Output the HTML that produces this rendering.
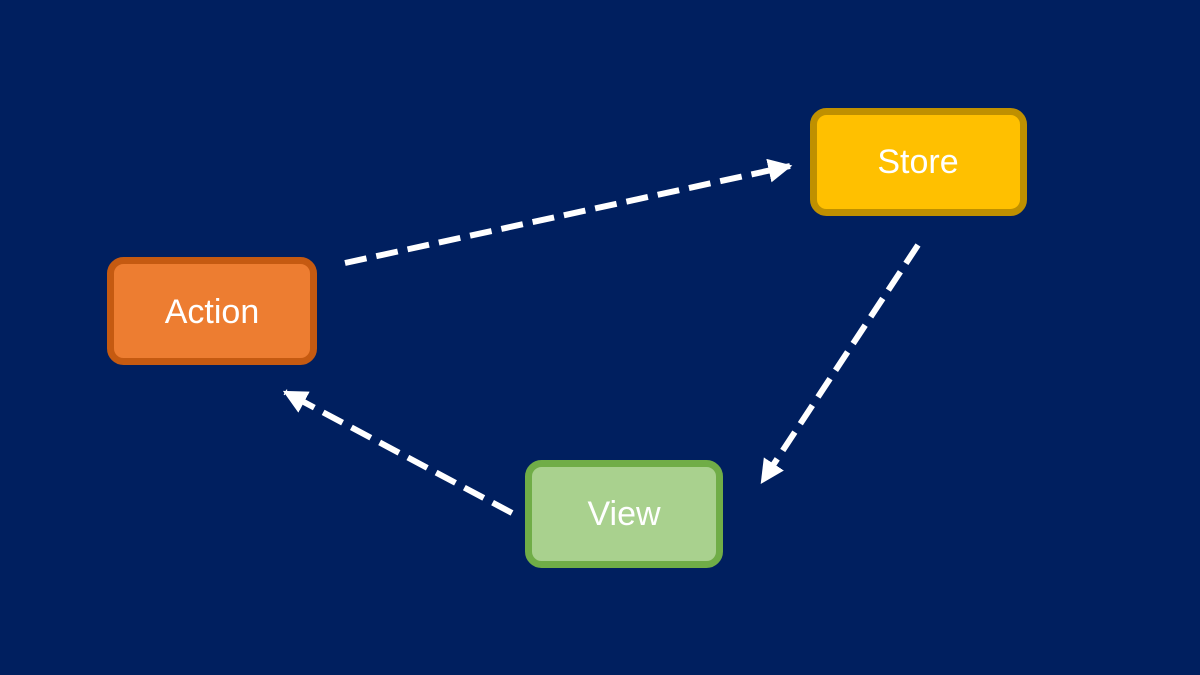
<!DOCTYPE html>
<html><head><meta charset="utf-8"><style>
html,body{margin:0;padding:0;background:#001f5f;}
svg{display:block}
text{font-family:"Liberation Sans",sans-serif;fill:#fff;font-size:34px;text-anchor:middle;dominant-baseline:central}
</style></head><body>
<svg width="1200" height="675" viewBox="0 0 1200 675" xmlns="http://www.w3.org/2000/svg">
<defs>
<marker id="ah" viewBox="0 0 10 10" refX="9" refY="5" markerWidth="4" markerHeight="4" markerUnits="strokeWidth" orient="auto">
<path d="M0,0 L10,5 L0,10 z" fill="#fff"/>
</marker>
</defs>
<rect width="1200" height="675" fill="#001f5f"/>
<rect x="110.5" y="260.5" width="203" height="101" rx="13" fill="#ed7d31" stroke="#c55a11" stroke-width="7"/>
<text x="212" y="312">Action</text>
<rect x="813.5" y="111.5" width="210" height="101" rx="13" fill="#ffc000" stroke="#bf9000" stroke-width="7"/>
<text x="918" y="162">Store</text>
<rect x="528.5" y="463.5" width="191" height="101" rx="13" fill="#a9d18e" stroke="#70ad47" stroke-width="7"/>
<text x="624" y="514">View</text>
<g stroke="#fff" stroke-width="6" fill="none" stroke-dasharray="22 10">
<line x1="345" y1="263" x2="790" y2="166" marker-end="url(#ah)"/>
<line x1="918" y1="245" x2="762" y2="482" marker-end="url(#ah)"/>
<line x1="512" y1="513" x2="285" y2="392" marker-end="url(#ah)"/>
</g>
</svg>
</body></html>
